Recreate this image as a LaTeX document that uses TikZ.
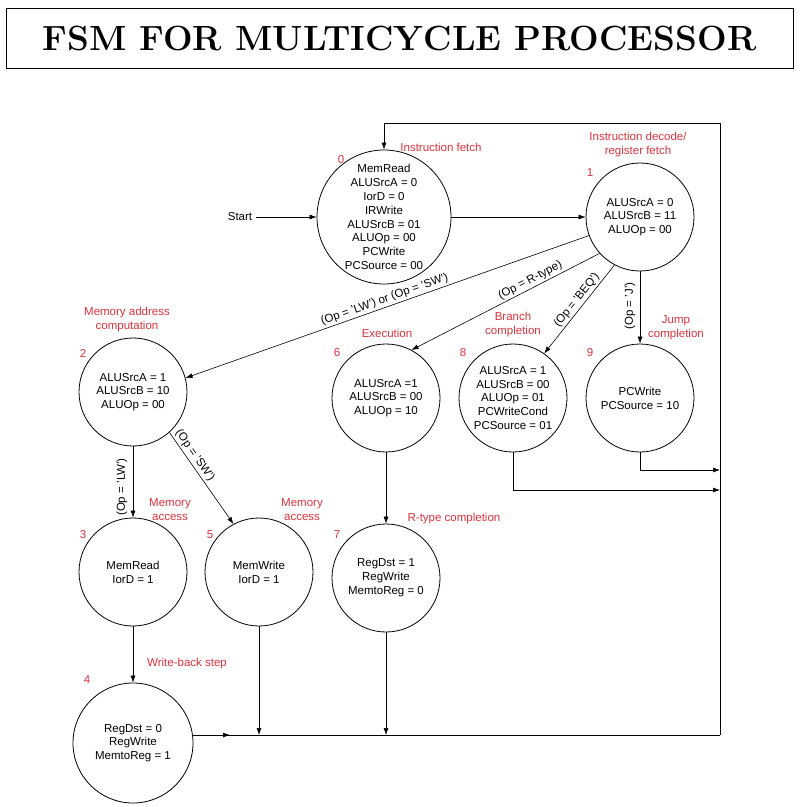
\documentclass[tikz,border=0pt]{standalone}
\usepackage{fontspec}
\setmainfont{Liberation Sans}
\newfontfamily\titlefont{Latin Modern Roman}
\usetikzlibrary{arrows.meta}
\definecolor{lab}{RGB}{220,50,60}
\begin{document}
\begin{tikzpicture}[x=1pt,y=-1pt,
  st/.style={circle,draw,thick,inner sep=0pt,align=center,font=\fontsize{11.5}{13.8}\selectfont},
  red/.style={text=lab,font=\fontsize{11.5}{14}\selectfont,align=center,inner sep=0pt},
  el/.style={font=\fontsize{11.5}{13}\selectfont,inner sep=2pt,sloped},
  vl/.style={font=\fontsize{11.5}{13}\selectfont,inner sep=0pt,rotate=90},
  ar/.style={-{Latex[length=7pt,width=5pt]},semithick},
  ln/.style={semithick}]
\useasboundingbox (0,0) rectangle (810,806);
\node[draw,thick,minimum width=787,minimum height=60,font=\titlefont\bfseries\fontsize{35}{40}\selectfont] (title) at (399.5,38) {FSM FOR MULTICYCLE PROCESSOR};

\node[st,minimum size=134] (s0) at (384,217) {MemRead\\ALUSrcA = 0\\IorD = 0\\IRWrite\\ALUSrcB = 01\\ALUOp = 00\\PCWrite\\PCSource = 00};
\node[st,minimum size=108] (s1) at (640,217) {ALUSrcA = 0\\ALUSrcB = 11\\ALUOp = 00};
\node[st,minimum size=108] (s2) at (133,392) {ALUSrcA = 1\\ALUSrcB = 10\\ALUOp = 00};
\node[st,minimum size=108] (s6) at (386,398) {ALUSrcA =1\\ALUSrcB = 00\\ALUOp = 10};
\node[st,minimum size=108] (s8) at (513,398) {ALUSrcA = 1\\ALUSrcB = 00\\ALUOp = 01\\PCWriteCond\\PCSource = 01};
\node[st,minimum size=108] (s9) at (640,398) {PCWrite\\PCSource = 10};
\node[st,minimum size=108] (s3) at (133,572) {MemRead\\IorD = 1};
\node[st,minimum size=108] (s5) at (259,572) {MemWrite\\IorD = 1};
\node[st,minimum size=108] (s7) at (386,578) {RegDst = 1\\RegWrite\\MemtoReg = 0};
\node[st,minimum size=120] (s4) at (133,743) {RegDst = 0\\RegWrite\\MemtoReg = 1};

\node[red] (n0) at (341,160) {0};
\node[red] (n1) at (590,173) {1};
\node[red] (n2) at (83,353) {2};
\node[red] (n6) at (337,353) {6};
\node[red] (n8) at (463,353) {8};
\node[red] (n9) at (590,353) {9};
\node[red] (n3) at (83,535) {3};
\node[red] (n5) at (210,535) {5};
\node[red] (n7) at (337,535) {7};
\node[red] (n4) at (87,680) {4};
\node[red] (t0) at (441,147) {Instruction fetch};
\node[red] (t1) at (638,145) {Instruction decode/\\register fetch};
\node[red] (t2) at (127,320) {Memory address\\computation};
\node[red] (t6) at (387,333) {Execution};
\node[red] (t8) at (513,325) {Branch\\completion};
\node[red] (t9) at (676,328) {Jump\\completion};
\node[red] (t3) at (170,510) {Memory\\access};
\node[red] (t5) at (302,510) {Memory\\access};
\node[red] (t7) at (454,519) {R-type completion};
\node[red] (t4) at (187,664) {Write-back step};

\node[font=\fontsize{11.5}{13}\selectfont] (start) at (240,217) {Start};
\draw[ar] (start) -- (s0);
\draw[ar] (s0) -- (s1);
\draw[ar] (s1.200) -- node[el,above] {(Op = 'LW') or (Op = 'SW')} (s2.15);
\draw[ar] (s1.222) -- node[el,above,pos=0.35] {(Op = R-type)} (s6.62);
\draw[ar] (s1.242) -- node[el,above,pos=0.45] {(Op = 'BEQ')} (s8.55);
\draw[ar] (s1) -- (s9);
\node[vl] (l9) at (630,306) {(Op = 'J')};
\draw[ar] (s2) -- (s3);
\node[vl] (l3) at (122,487) {(Op = 'LW')};
\draw[ar] (s2.-48) -- node[el,above,pos=0.3] {(Op = 'SW')} (s5.118);
\draw[ar] (s6) -- (s7);
\draw[ar] (s3) -- (s4);

\coordinate (tr) at (720,123);
\coordinate (tl) at (384,123);
\coordinate (br) at (720,735);
\coordinate (b4) at (193,735);
\draw[ln] (br) -- (tr) -- (tl);
\draw[ar] (tl) -- (s0);
\draw[ln] (b4) -- (br);
\draw[ar] (b4) -- (230,735);
\coordinate (b5) at (259,735);
\coordinate (b7) at (386,735);
\draw[ar] (s5) -- (b5);
\draw[ar] (s7) -- (b7);
\coordinate (c9) at (640,470);
\coordinate (e9) at (720,470);
\coordinate (c8) at (513,490);
\coordinate (e8) at (720,490);
\draw[ar] (s9) -- (c9) -- (e9);
\draw[ar] (s8) -- (c8) -- (e8);
\end{tikzpicture}
\end{document}
